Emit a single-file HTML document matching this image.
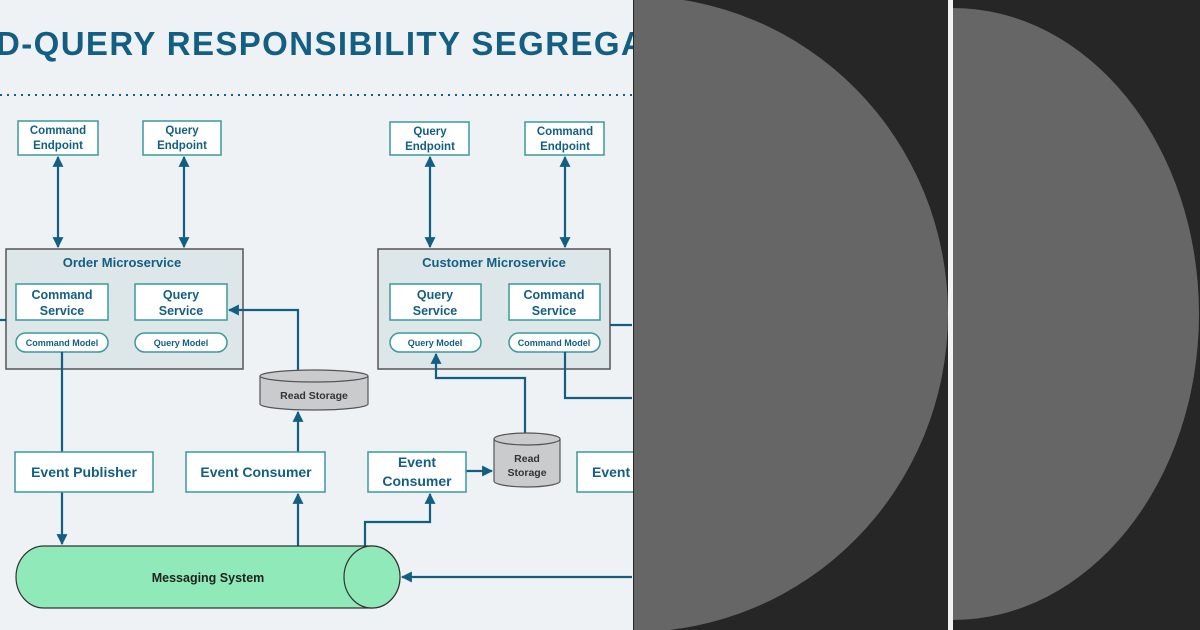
<!DOCTYPE html>
<html><head><meta charset="utf-8"><style>
html,body{margin:0;padding:0;width:1200px;height:630px;overflow:hidden;background:#262626}
svg{display:block}
text{font-family:"Liberation Sans",sans-serif;font-weight:bold}
</style></head><body>
<svg width="1200" height="630" viewBox="0 0 1200 630" xmlns="http://www.w3.org/2000/svg">
<defs>
<marker id="a" viewBox="0 0 10 10" refX="9" refY="5" markerWidth="5" markerHeight="5" orient="auto-start-reverse"><path d="M0,0L10,5L0,10z" fill="#135f84"/></marker>
<clipPath id="c1"><rect x="634" y="0" width="314" height="630"/></clipPath>
<clipPath id="c2"><rect x="953" y="0" width="247" height="630"/></clipPath>
<clipPath id="cl"><rect x="0" y="0" width="633" height="630"/></clipPath>
</defs>
<rect x="0" y="0" width="1200" height="630" fill="#262626"/>
<ellipse cx="634" cy="314" rx="314" ry="318" fill="#666" clip-path="url(#c1)"/>
<rect x="948" y="0" width="5" height="630" fill="#f2f2f2"/>
<ellipse cx="953" cy="314" rx="246" ry="306" fill="#666" clip-path="url(#c2)"/>
<g clip-path="url(#cl)">
<rect x="0" y="0" width="633" height="630" fill="#eef2f4"/>
<text x="-4" y="55" font-size="33" fill="#135f84" letter-spacing="1.4">D-QUERY RESPONSIBILITY SEGREGA</text>
<line x1="0" y1="95" x2="632" y2="95" stroke="#135f84" stroke-width="2" stroke-dasharray="2,5"/>
<g fill="#fff" stroke="#3a9a9a" stroke-width="1.5">
<rect x="18" y="121" width="80" height="34"/><rect x="143" y="121" width="78" height="34"/>
<rect x="390" y="122" width="79" height="33"/><rect x="525" y="122" width="79" height="33"/>
</g>
<g font-size="11.5" fill="#135f84" text-anchor="middle">
<text x="58" y="134">Command</text><text x="58" y="149">Endpoint</text>
<text x="182" y="134">Query</text><text x="182" y="149">Endpoint</text>
<text x="430" y="135">Query</text><text x="430" y="150">Endpoint</text>
<text x="565" y="135">Command</text><text x="565" y="150">Endpoint</text>
</g>
<g stroke="#135f84" stroke-width="2.2" fill="none">
<line x1="58" y1="157" x2="58" y2="247" marker-start="url(#a)" marker-end="url(#a)"/>
<line x1="184" y1="157" x2="184" y2="247" marker-start="url(#a)" marker-end="url(#a)"/>
<line x1="430" y1="157" x2="430" y2="247" marker-start="url(#a)" marker-end="url(#a)"/>
<line x1="565" y1="157" x2="565" y2="247" marker-start="url(#a)" marker-end="url(#a)"/>
</g>
<g fill="#dde6e9" stroke="#555" stroke-width="1.5">
<rect x="6" y="249" width="237" height="120"/><rect x="378" y="249" width="232" height="120"/>
</g>
<g fill="#fff" stroke="#3a9a9a" stroke-width="1.5">
<rect x="16" y="284" width="92" height="36"/><rect x="135" y="284" width="92" height="36"/>
<rect x="390" y="284" width="91" height="36"/><rect x="509" y="284" width="91" height="36"/>
<rect x="16" y="333" width="92" height="19" rx="9.5"/><rect x="135" y="333" width="92" height="19" rx="9.5"/>
<rect x="390" y="333" width="91" height="19" rx="9.5"/><rect x="509" y="333" width="91" height="19" rx="9.5"/>
</g>
<g fill="#135f84" text-anchor="middle">
<text x="122" y="267" font-size="13">Order Microservice</text>
<text x="494" y="267" font-size="13">Customer Microservice</text>
<g font-size="12.5"><text x="62" y="299">Command</text><text x="62" y="315">Service</text>
<text x="181" y="299">Query</text><text x="181" y="315">Service</text>
<text x="435" y="299">Query</text><text x="435" y="315">Service</text>
<text x="554" y="299">Command</text><text x="554" y="315">Service</text></g>
<g font-size="9" font-weight="normal"><text x="62" y="346">Command Model</text><text x="181" y="346">Query Model</text>
<text x="435" y="346">Query Model</text><text x="554" y="346">Command Model</text></g>
</g>
<g stroke="#135f84" stroke-width="2.2" fill="none">
<line x1="0" y1="320" x2="6" y2="320"/>
<line x1="610" y1="325" x2="632" y2="325"/>
<polyline points="298,370 298,310 229,310" marker-end="url(#a)"/>
<line x1="298" y1="452" x2="298" y2="412" marker-end="url(#a)"/>
<line x1="62" y1="352" x2="62" y2="452"/>
<line x1="62" y1="492" x2="62" y2="544" marker-end="url(#a)"/>
<line x1="298" y1="546" x2="298" y2="494" marker-end="url(#a)"/>
<polyline points="365,546 365,522 430,522 430,494" marker-end="url(#a)"/>
<line x1="466" y1="471" x2="492" y2="471" marker-end="url(#a)"/>
<polyline points="525,435 525,378 436,378 436,354" marker-end="url(#a)"/>
<polyline points="565,352 565,398 632,398"/>
<line x1="632" y1="577" x2="402" y2="577" marker-end="url(#a)"/>
</g>
<g fill="#c9cbcd" stroke="#555" stroke-width="1.2">
<path d="M260,376 L260,404 A54,6 0 0 0 368,404 L368,376"/><ellipse cx="314" cy="376" rx="54" ry="6"/>
<path d="M494,439 L494,481 A33,6 0 0 0 560,481 L560,439"/><ellipse cx="527" cy="439" rx="33" ry="6"/>
</g>
<g fill="#333" text-anchor="middle" font-size="10.5">
<text x="314" y="399">Read Storage</text>
<text x="527" y="462">Read</text><text x="527" y="476">Storage</text>
</g>
<g fill="#fff" stroke="#3a9a9a" stroke-width="1.5">
<rect x="15" y="452" width="138" height="40"/><rect x="186" y="452" width="139" height="40"/>
<rect x="368" y="452" width="98" height="40"/><rect x="577" y="452" width="60" height="40"/>
</g>
<g fill="#135f84" font-size="14" text-anchor="middle">
<text x="84" y="477">Event Publisher</text><text x="256" y="477">Event Consumer</text>
<text x="417" y="467">Event</text><text x="417" y="486">Consumer</text>
<text x="592" y="477" text-anchor="start">Event</text>
</g>
<path d="M44,546 L372,546 A28,31 0 0 1 372,608 L44,608 A28,31 0 0 1 44,546 Z" fill="#90e9b9" stroke="#333" stroke-width="1.2"/>
<ellipse cx="372" cy="577" rx="28" ry="31" fill="#90e9b9" stroke="#333" stroke-width="1.2"/>
<text x="208" y="582" font-size="12.5" fill="#222" text-anchor="middle">Messaging System</text>
</g>
</svg>
</body></html>
